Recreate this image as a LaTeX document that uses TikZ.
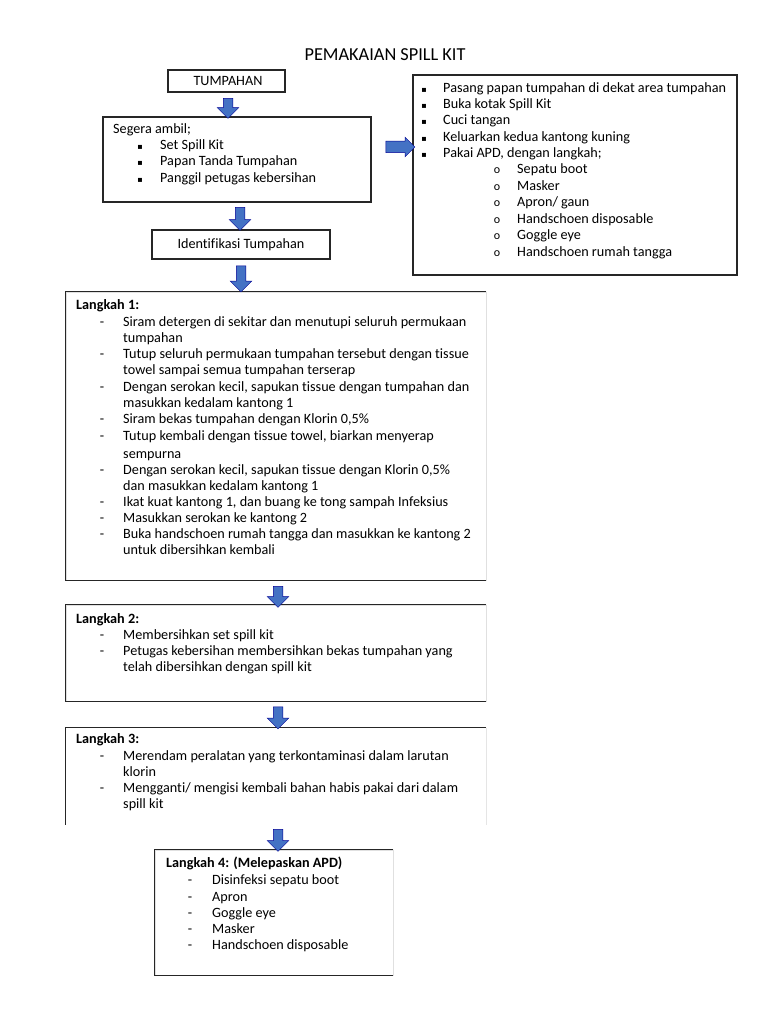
\documentclass[tikz,border=0pt]{standalone}
\usepackage{fontspec}
\setmainfont[Ligatures=NoCommon]{Carlito}
\newfontfamily\dv{DejaVu Sans}
\usetikzlibrary{shapes.arrows}
\begin{document}
\begin{tikzpicture}[x=1pt,y=-1pt,
  box/.style={draw=black!85, line width=1.3pt, inner sep=0pt, fill=white},
  openbox/.style={draw=black!12, line width=0.8pt, inner sep=0pt, fill=white},
  edge/.style={draw=black!85, line width=1.3pt},
  txt/.style={anchor=base west, inner sep=0pt, font=\fontsize{14.2}{16}\selectfont},
  ctxt/.style={anchor=base, inner sep=0pt, font=\fontsize{14.2}{16}\selectfont},
  bul/.style={anchor=base, inner sep=0pt, font=\dv\fontsize{8}{16}\selectfont},
  dsh/.style={anchor=base, inner sep=0pt, font=\fontsize{14.2}{16}\selectfont},
  circ/.style={anchor=base, inner sep=0pt, font=\fontsize{12}{16}\selectfont},
  barrow/.style={single arrow, draw=blue!40!black!70!blue, fill=arrowblue, line width=0.5pt,
    inner sep=4.5pt, single arrow head extend=6pt, single arrow head indent=0pt,
    minimum height=#1, shape border uses incircle=false},
]
\definecolor{arrowblue}{HTML}{4472C4}
\useasboundingbox[fill=white] (0,0) rectangle (768,1024);

% title
\node[anchor=base, inner sep=0pt, font=\fontsize{18.3}{20}\selectfont] (title) at (385,61) {PEMAKAIAN SPILL KIT};

% boxes
\node[box, minimum width=117pt, minimum height=22pt] (tump) at (226.5,81) {};
\node[box, minimum width=268pt, minimum height=85pt] (seg) at (237,159.5) {};
\node[box, minimum width=324pt, minimum height=200pt] (apd) at (575,175) {};
\node[box, minimum width=178pt, minimum height=29pt] (ident) at (241,244.5) {};
\node[openbox, minimum width=420pt, minimum height=288pt] (l1) at (276,436) {};
\node[openbox, minimum width=420pt, minimum height=96pt] (l2) at (276,653) {};
\node[inner sep=0pt, minimum width=420pt, minimum height=97pt] (l3) at (276,776.5) {};
\node[openbox, minimum width=238pt, minimum height=125pt] (l4) at (274,912.5) {};

\draw[edge] (l1.north east) -- (l1.north west) -- (l1.south west) -- (l1.south east);
\draw[edge] (l2.north east) -- (l2.north west) -- (l2.south west) -- (l2.south east);
\draw[edge] (l3.north east) -- (l3.north west) -- (l3.south west);
\draw[black!10, line width=0.6pt] (l3.north east) -- (l3.south east);
\draw[edge] (l4.north east) -- (l4.north west) -- (l4.south west) -- (l4.south east);

% block arrows
\node[barrow=20pt, rotate=-90] (a1) at (228,106) {};
\node[barrow=23pt, rotate=-90] (a2) at (240,216.5) {};
\node[barrow=26pt, rotate=-90] (a3) at (241,276.5) {};
\node[barrow=21pt, rotate=-90] (a4) at (278,594.5) {};
\node[barrow=22pt, rotate=-90] (a5) at (278,715.5) {};
\node[barrow=22pt, rotate=-90] (a6) at (278,838) {};
\node[barrow=29pt, inner sep=5.5pt, single arrow head extend=4pt] (a7) at (397.5,147) {};

% TUMPAHAN
\node[ctxt] (t0) at (228,86) {TUMPAHAN};

% Segera ambil
\node[txt] (s0) at (113,134) {Segera ambil;};
\node[bul] (sb1) at (140,150) {▪};
\node[txt] (s1) at (160,150) {Set Spill Kit};
\node[bul] (sb2) at (140,166) {▪};
\node[txt] (s2) at (160,166) {Papan Tanda Tumpahan};
\node[bul] (sb3) at (140,183) {▪};
\node[txt] (s3) at (160,183) {Panggil petugas kebersihan};

% right box
\node[bul] (rb1) at (424,93) {▪};
\node[txt] (r1) at (443,93) {Pasang papan tumpahan di dekat area tumpahan};
\node[bul] (rb2) at (424,109) {▪};
\node[txt] (r2) at (443,109) {Buka kotak Spill Kit};
\node[bul] (rb3) at (424,125) {▪};
\node[txt] (r3) at (443,125) {Cuci tangan};
\node[bul] (rb4) at (424,142) {▪};
\node[txt] (r4) at (443,142) {Keluarkan kedua kantong kuning};
\node[bul] (rb5) at (424,158) {▪};
\node[txt] (r5) at (443,158) {Pakai APD, dengan langkah;};
\node[circ] (rc1) at (497,174) {o};
\node[txt] (r6) at (517,174) {Sepatu boot};
\node[circ] (rc2) at (497,191) {o};
\node[txt] (r7) at (517,191) {Masker};
\node[circ] (rc3) at (497,207) {o};
\node[txt] (r8) at (517,207) {Apron/ gaun};
\node[circ] (rc4) at (497,223) {o};
\node[txt] (r9) at (517,223) {Handschoen disposable};
\node[circ] (rc5) at (497,240) {o};
\node[txt] (r10) at (517,240) {Goggle eye};
\node[circ] (rc6) at (497,256) {o};
\node[txt] (r11) at (517,256) {Handschoen rumah tangga};

% Identifikasi
\node[ctxt] (i0) at (241,248) {Identifikasi Tumpahan};

% Langkah 1
\node[txt] (h1) at (76,309) {\bfseries Langkah 1:};
\node[dsh] (d11) at (102,326) {-};
\node[txt] (p11) at (123,326) {Siram detergen di sekitar dan menutupi seluruh permukaan};
\node[txt] (p12) at (123,342) {tumpahan};
\node[dsh] (d12) at (102,358) {-};
\node[txt] (p13) at (123,358) {Tutup seluruh permukaan tumpahan tersebut dengan tissue};
\node[txt] (p14) at (123,374) {towel sampai semua tumpahan terserap};
\node[dsh] (d13) at (102,391) {-};
\node[txt] (p15) at (123,391) {Dengan serokan kecil, sapukan tissue dengan tumpahan dan};
\node[txt] (p16) at (123,407) {masukkan kedalam kantong 1};
\node[dsh] (d14) at (102,423) {-};
\node[txt] (p17) at (123,423) {Siram bekas tumpahan dengan Klorin 0,5\%};
\node[dsh] (d15) at (102,440) {-};
\node[txt] (p18) at (123,440) {Tutup kembali dengan tissue towel, biarkan menyerap};
\node[txt] (p19) at (123,458) {sempurna};
\node[dsh] (d16) at (102,474) {-};
\node[txt] (p110) at (123,474) {Dengan serokan kecil, sapukan tissue dengan Klorin 0,5\%};
\node[txt] (p111) at (123,490) {dan masukkan kedalam kantong 1};
\node[dsh] (d17) at (102,506) {-};
\node[txt] (p112) at (123,506) {Ikat kuat kantong 1, dan buang ke tong sampah Infeksius};
\node[dsh] (d18) at (102,522) {-};
\node[txt] (p113) at (123,522) {Masukkan serokan ke kantong 2};
\node[dsh] (d19) at (102,538) {-};
\node[txt] (p114) at (123,538) {Buka handschoen rumah tangga dan masukkan ke kantong 2};
\node[txt] (p115) at (123,554) {untuk dibersihkan kembali};

% Langkah 2
\node[txt] (h2) at (76,623) {\bfseries Langkah 2:};
\node[dsh] (d21) at (102,639) {-};
\node[txt] (p21) at (123,639) {Membersihkan set spill kit};
\node[dsh] (d22) at (102,655) {-};
\node[txt] (p22) at (123,655) {Petugas kebersihan membersihkan bekas tumpahan yang};
\node[txt] (p23) at (123,671) {telah dibersihkan dengan spill kit};

% Langkah 3
\node[txt] (h3) at (76,743) {\bfseries Langkah 3:};
\node[dsh] (d31) at (102,760) {-};
\node[txt] (p31) at (123,760) {Merendam peralatan yang terkontaminasi dalam larutan};
\node[txt] (p32) at (123,776) {klorin};
\node[dsh] (d32) at (102,792) {-};
\node[txt] (p33) at (123,792) {Mengganti/ mengisi kembali bahan habis pakai dari dalam};
\node[txt] (p34) at (123,808) {spill kit};

% Langkah 4
\node[txt] (h4) at (166,867) {\bfseries Langkah 4: (Melepaskan APD)};
\node[dsh] (d41) at (190,884) {-};
\node[txt] (p41) at (212,884) {Disinfeksi sepatu boot};
\node[dsh] (d42) at (190,901) {-};
\node[txt] (p42) at (212,901) {Apron};
\node[dsh] (d43) at (190,917) {-};
\node[txt] (p43) at (212,917) {Goggle eye};
\node[dsh] (d44) at (190,933) {-};
\node[txt] (p44) at (212,933) {Masker};
\node[dsh] (d45) at (190,949) {-};
\node[txt] (p45) at (212,949) {Handschoen disposable};
\end{tikzpicture}
\end{document}
